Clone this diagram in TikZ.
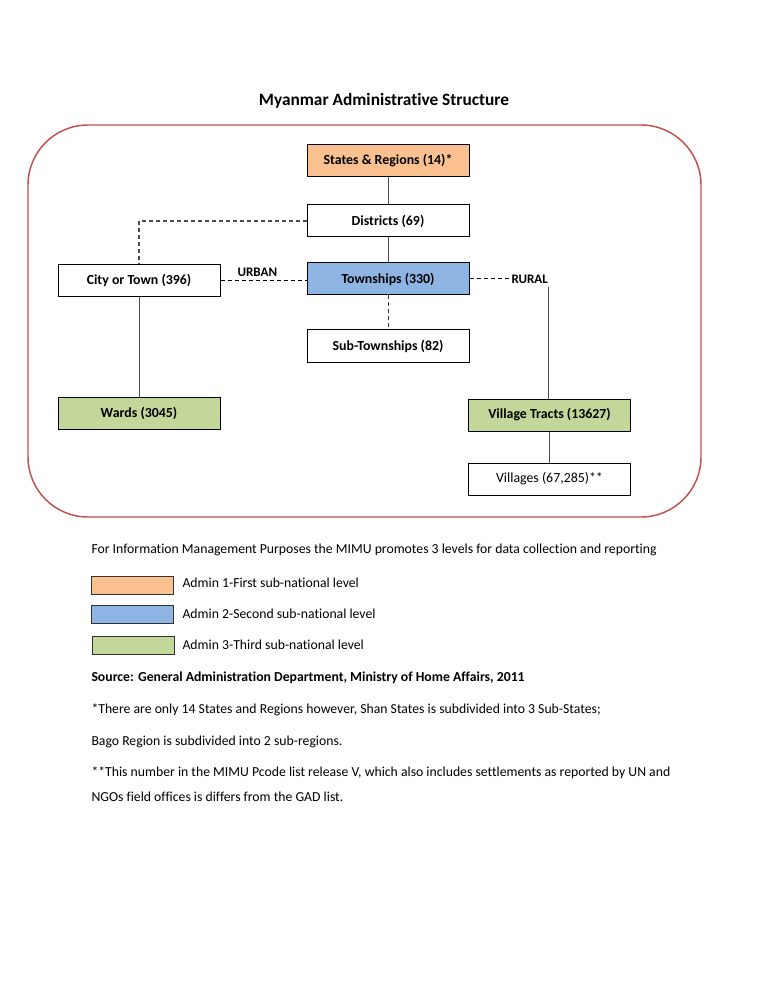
\documentclass[tikz,border=0pt]{standalone}
\usepackage{fontspec}
\setmainfont[Ligatures=NoCommon]{Carlito}
\definecolor{frameRed}{RGB}{192,80,77}
\definecolor{adminOne}{RGB}{250,192,144}
\definecolor{adminTwo}{RGB}{141,180,226}
\definecolor{adminThree}{RGB}{196,215,155}
\tikzset{every picture/.style={line width=0.75pt}}
\tikzset{
  levelbox/.style={draw=black, minimum width=121.5pt, minimum height=24pt, inner sep=0pt, font=\fontsize{10.4}{12}\selectfont\bfseries},
  plainbox/.style={levelbox, font=\fontsize{10.4}{12}\selectfont},
  keybox/.style={draw=black!80, minimum width=62pt, minimum height=13.5pt, inner sep=0pt},
  dashlink/.style={dash pattern=on 3pt off 2.25pt},
  notetext/.style={anchor=west, inner sep=0pt, font=\fontsize{10.3}{12}\selectfont}
}

\begin{document}
\begin{tikzpicture}[x=0.75pt,y=0.75pt,yscale=-1,xscale=1]
	\path[use as bounding box] (0,0) rectangle (768,994);
	
	%Title
	\draw (384,101) node [inner sep=0pt, font=\fontsize{13}{15}\selectfont\bfseries] (title) {Myanmar Administrative Structure};
	
	%Shape: Rounded Rect
	\draw [color=frameRed, line width=1.1pt, rounded corners=45pt] (28,125) rectangle (701,517);
	
	%Levels
	\draw (388,161) node [levelbox, fill=adminOne] (states) {States \& Regions (14)*};
	\draw (388,221) node [levelbox, fill=white] (districts) {Districts (69)};
	\draw (388,279) node [levelbox, fill=adminTwo] (townships) {Townships (330)};
	\draw (388,346) node [levelbox, fill=white] (subtownships) {Sub-Townships (82)};
	\draw (139,280.5) node [levelbox, fill=white] (city) {City or Town (396)};
	\draw (139,413) node [levelbox, fill=adminThree] (wards) {Wards (3045)};
	\draw (549.5,415) node [levelbox, fill=adminThree] (tracts) {Village Tracts (13627)};
	\draw (549.5,479) node [plainbox, fill=white] (villages) {Villages (67,285)**};
	
	%Links
	\draw [black!70] (states) -- (districts) ;
	\draw [black!70] (districts) -- (townships) ;
	\draw [black!70] (city) -- (wards) ;
	\draw [black!70] (tracts) -- (villages) ;
	\draw [dashlink, black!80] (townships) -- (subtownships) ;
	\draw [dashlink, line width=0.9pt, black!70] (districts.west) -| (city.north) ;
	\draw [dashlink] (city.east) -- (city.east -| townships.west) ;
	\draw [dashlink] (townships.east) -- (510,279) coordinate (ruralend) ;
	\draw [black!70] (548,287) coordinate (ruraldrop) -- (ruraldrop |- tracts.north) ;
	
	\draw (237,272) node [anchor=west, inner sep=0pt, font=\fontsize{9.8}{11}\selectfont\bfseries] (urban) {URBAN};
	\draw (ruralend) node [anchor=west, inner sep=0.75pt, font=\fontsize{9.8}{11}\selectfont\bfseries] (rural) {RURAL};
	
	%Notes
	\draw (91,550) node [notetext] (intro) {For Information Management Purposes the MIMU promotes 3 levels for data collection and reporting};
	\draw (132.5,585) node [keybox, fill=adminOne] (keyone) {};
	\draw (132.5,614.5) node [keybox, fill=adminTwo] (keytwo) {};
	\draw (133.5,645) node [keybox, fill=adminThree] (keythree) {};
	\draw (182,583) node [notetext] (labone) {Admin 1-First sub-national level};
	\draw (182,614) node [notetext] (labtwo) {Admin 2-Second sub-national level};
	\draw (182,645) node [notetext] (labthree) {Admin 3-Third sub-national level};
	\draw (91,678) node [notetext, font=\fontsize{10.3}{12}\selectfont\bfseries] (source) {Source: General Administration Department, Ministry of Home Affairs, 2011};
	\draw (91,710) node [notetext] (noteone) {*There are only 14 States and Regions however, Shan States is subdivided into 3 Sub-States;};
	\draw (91,742) node [notetext] (notetwo) {Bago Region is subdivided into 2 sub-regions.};
	\draw (91,773) node [notetext] (notethree) {**This number in the MIMU Pcode list release V, which also includes settlements as reported by UN and};
	\draw (91,797) node [notetext] (notefour) {NGOs field offices is differs from the GAD list.};
	
\end{tikzpicture}
\end{document}
